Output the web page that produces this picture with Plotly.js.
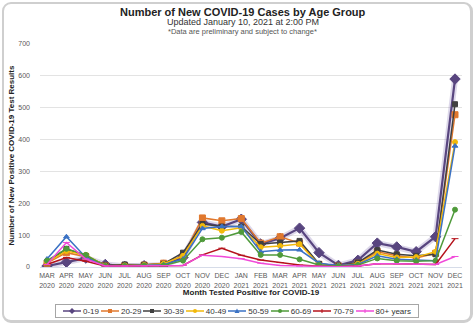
<!DOCTYPE html>
<html>
<head>
<meta charset="utf-8">
<script src="https://cdn.plot.ly/plotly-3.0.1.min.js"></script>
<style>
html,body{margin:0;padding:0;background:#fff;}
#wrap{position:relative;width:474px;height:324px;overflow:hidden;}
#chart{width:474px;height:324px;}
#frame{position:absolute;left:2px;top:2px;width:466px;height:316px;border:2px solid #cfcfcf;border-bottom-width:3px;border-right-width:3px;border-radius:9px;pointer-events:none;}
#legend{position:absolute;left:55px;top:304px;width:364px;height:14px;border:1px solid #a6a6a6;box-sizing:border-box;display:flex;align-items:center;justify-content:space-around;padding:0 6px;font-family:"Liberation Sans",Arial,sans-serif;font-size:8px;color:#333;background:#fff;}
#legend .it{display:flex;align-items:center;white-space:nowrap;}
#legend svg{margin-right:2px;}
</style>
</head>
<body>
<div id="wrap"><div id="chart"></div><div id="legend"></div><div id="frame"></div></div>
<script>
const months = ["MAR<br>2020","APR<br>2020","MAY<br>2020","JUN<br>2020","JUL<br>2020","AUG<br>2020","SEP<br>2020","OCT<br>2020","NOV<br>2020","DEC<br>2020","JAN<br>2021","FEB<br>2021","MAR<br>2021","APR<br>2021","MAY<br>2021","JUN<br>2021","JUL<br>2021","AUG<br>2021","SEP<br>2021","OCT<br>2021","NOV<br>2021","DEC<br>2021"];

const age0_19  = [3, 15, 28, 8, 2, 4, 6, 30, 140, 127, 150, 72, 90, 122, 45, 5, 21, 75, 63, 48, 95, 590];
const age20_29 = [12, 45, 32, 4, 4, 6, 12, 35, 154, 145, 152, 75, 95, 75, 8, 3, 12, 48, 35, 28, 43, 478];
const age30_39 = [15, 57, 35, 5, 8, 7, 10, 45, 135, 127, 127, 72, 77, 82, 10, 4, 14, 53, 40, 35, 40, 511];
const age40_49 = [15, 50, 38, 4, 5, 6, 10, 35, 129, 114, 123, 62, 66, 72, 8, 3, 10, 42, 30, 31, 48, 392];
const age50_59 = [25, 95, 30, 4, 4, 5, 7, 25, 121, 127, 127, 48, 53, 54, 12, 5, 8, 35, 24, 22, 20, 380];
const age60_69 = [20, 57, 38, 3, 3, 4, 5, 20, 87, 92, 110, 38, 38, 24, 6, 2, 6, 27, 20, 18, 20, 180];
const age70_79 = [8, 30, 18, 3, 3, 3, 4, 5, 38, 59, 37, 22, 14, 6, 2, 1, 3, 10, 10, 8, 8, 89];
const age80    = [8, 77, 25, 3, 3, 3, 4, 5, 37, 33, 26, 12, 5, 3, 2, 1, 3, 10, 10, 8, 8, 33];

const seriesNames = ["0-19","20-29","30-39","40-49","50-59","60-69","70-79","80+ years"];
const seriesData = [age0_19, age20_29, age30_39, age40_49, age50_59, age60_69, age70_79, age80];
const colors = ["#58457f","#e0782e","#404040","#f2b90a","#3b72c4","#4f9a3a","#b5121b","#f04ad8"];
const symbols = ["diamond","square","square","circle","triangle-up","circle","line-ew-open","line-ew-open"];
const sizes = [8,6,5,5,5,5,5,5];

const xs = months.map((m,i)=>i);

const traces = [];
traces.push({x: xs, y: age0_19, type:"scatter", mode:"lines", line:{color:"rgba(120,100,170,0.25)", width:6}, showlegend:false, hoverinfo:"skip"});
seriesData.forEach((d,k)=>{
  traces.push({
    x: xs, y: d, name: seriesNames[k], type:"scatter", mode:"lines+markers",
    line:{color:colors[k], width: k===0?2.2:1.5},
    marker:{color:colors[k], symbol:symbols[k], size:sizes[k], line:{color:colors[k], width:1}}
  });
});

const layout = {
  width:474, height:324,
  margin:{l:40, r:12, t:44, b:57},
  paper_bgcolor:"rgba(0,0,0,0)", plot_bgcolor:"#fff",
  font:{family:"Liberation Sans, Arial, sans-serif", color:"#404040"},
  showlegend:false,
  annotations:[
    {text:"<b>Number of New COVID-19 Cases by Age Group</b>", xref:"paper", yref:"paper", x:0.48, y:1, yanchor:"middle", yshift:32, showarrow:false, font:{size:11, color:"#222"}},
    {text:"Updated January 10, 2021 at 2:00 PM", xref:"paper", yref:"paper", x:0.48, y:1, yanchor:"middle", yshift:22, showarrow:false, font:{size:9, color:"#333"}},
    {text:"*Data are preliminary and subject to change*", xref:"paper", yref:"paper", x:0.48, y:1, yanchor:"middle", yshift:13, showarrow:false, font:{size:7.5, color:"#555"}}
  ],
  xaxis:{
    type:"linear", range:[-0.36, 21.36],
    tickmode:"array", tickvals:xs, ticktext:months,
    tickfont:{size:7, color:"#595959"}, showgrid:false, zeroline:false,
    showline:true, linecolor:"#d6dce8", linewidth:1, ticks:"", ticklabelstandoff:2,
    title:{text:"<b>Month Tested Positive for COVID-19</b>", font:{size:8, color:"#222"}, standoff:1}
  },
  yaxis:{
    range:[0,700], dtick:100, tickfont:{size:7, color:"#595959"},
    gridcolor:"#e3e3e3", zeroline:false, showline:false, ticks:"", ticklabelstandoff:9,
    title:{text:"<b>Number of New Positive COVID-19 Test Results</b>", font:{size:8, color:"#222"}, standoff:2}
  }
};

Plotly.newPlot("chart", traces, layout, {displayModeBar:false, staticPlot:true});

const legendEl = document.getElementById("legend");
const svgSym = {
  "diamond": c => `<polygon points="9,1 12,4 9,7 6,4" fill="${c}"/>`,
  "square": c => `<rect x="7" y="2" width="4" height="4" fill="${c}"/>`,
  "circle": c => `<circle cx="9" cy="4" r="2" fill="${c}"/>`,
  "triangle-up": c => `<polygon points="9,1.5 11.5,6 6.5,6" fill="${c}"/>`,
  "line-ew-open": c => `<rect x="8.5" y="2" width="1" height="4" fill="${c}"/>`
};
seriesNames.forEach((n,k)=>{
  const it = document.createElement("div");
  it.className = "it";
  it.innerHTML = `<svg width="18" height="8"><line x1="0" y1="4" x2="18" y2="4" stroke="${colors[k]}" stroke-width="1.5"/>${svgSym[symbols[k]](colors[k])}</svg><span>${n}</span>`;
  legendEl.appendChild(it);
});
</script>
</body>
</html>
